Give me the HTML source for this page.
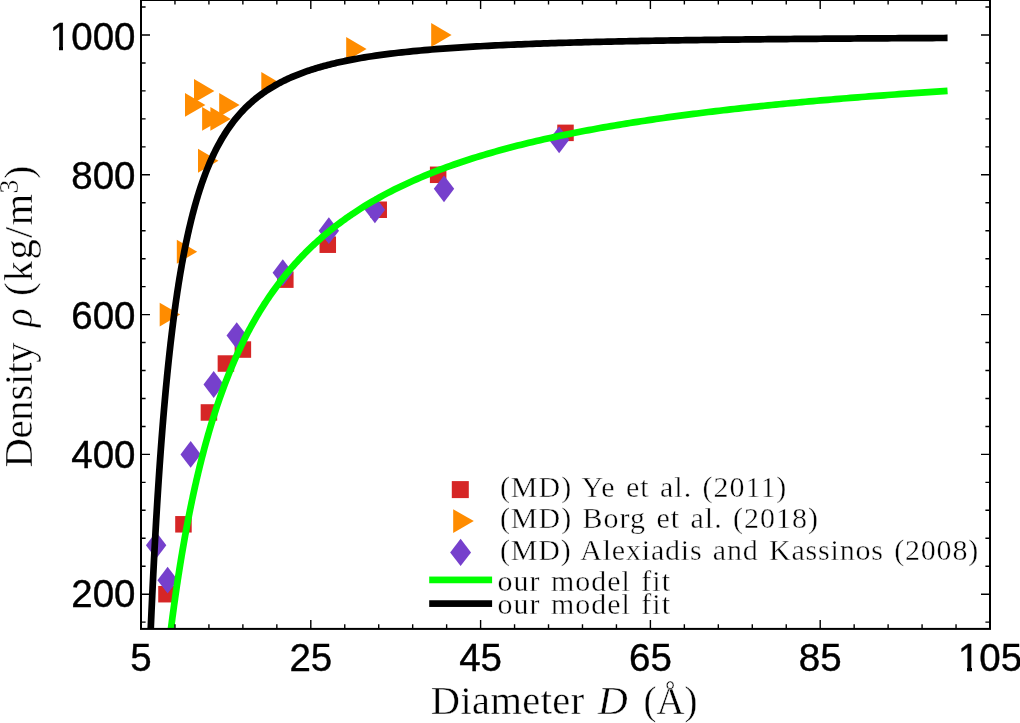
<!DOCTYPE html>
<html><head><meta charset="utf-8"><style>html,body{margin:0;padding:0;background:#fff;overflow:hidden}svg{display:block}</style></head>
<body>
<svg width="1020" height="723" viewBox="0 0 1020 723">
<rect width="1020" height="723" fill="#fff"/>
<defs><clipPath id="c"><rect x="141" y="0" width="849" height="629"/></clipPath></defs>
<g clip-path="url(#c)">
<rect x="158.22" y="585.95" width="16.5" height="16.5" fill="#d62626"/>
<rect x="175.20" y="516.05" width="16.5" height="16.5" fill="#d62626"/>
<rect x="200.67" y="404.21" width="16.5" height="16.5" fill="#d62626"/>
<rect x="217.65" y="355.28" width="16.5" height="16.5" fill="#d62626"/>
<rect x="234.63" y="341.30" width="16.5" height="16.5" fill="#d62626"/>
<rect x="277.08" y="271.40" width="16.5" height="16.5" fill="#d62626"/>
<rect x="319.53" y="236.45" width="16.5" height="16.5" fill="#d62626"/>
<rect x="370.47" y="201.50" width="16.5" height="16.5" fill="#d62626"/>
<rect x="429.90" y="166.55" width="16.5" height="16.5" fill="#d62626"/>
<rect x="557.25" y="124.61" width="16.5" height="16.5" fill="#d62626"/>
<polygon points="159.70,302.65 180.10,314.60 159.70,326.55" fill="#ff8c00"/>
<polygon points="176.80,239.74 197.20,251.69 176.80,263.64" fill="#ff8c00"/>
<polygon points="198.00,148.87 218.40,160.82 198.00,172.77" fill="#ff8c00"/>
<polygon points="202.10,106.93 222.50,118.88 202.10,130.83" fill="#ff8c00"/>
<polygon points="210.40,106.93 230.80,118.88 210.40,130.83" fill="#ff8c00"/>
<polygon points="185.00,92.95 205.40,104.90 185.00,116.85" fill="#ff8c00"/>
<polygon points="219.20,92.95 239.60,104.90 219.20,116.85" fill="#ff8c00"/>
<polygon points="194.00,78.97 214.40,90.92 194.00,102.87" fill="#ff8c00"/>
<polygon points="261.30,71.98 281.70,83.93 261.30,95.88" fill="#ff8c00"/>
<polygon points="346.20,37.03 366.60,48.98 346.20,60.93" fill="#ff8c00"/>
<polygon points="431.20,23.05 451.60,35.00 431.20,46.95" fill="#ff8c00"/>
<polygon points="145.92,545.27 156.12,531.87 166.32,545.27 156.12,558.67" fill="#7640cc"/>
<polygon points="157.44,580.22 167.64,566.82 177.84,580.22 167.64,593.62" fill="#7640cc"/>
<polygon points="180.47,454.40 190.67,441.00 200.87,454.40 190.67,467.80" fill="#7640cc"/>
<polygon points="203.50,384.50 213.70,371.10 223.90,384.50 213.70,397.90" fill="#7640cc"/>
<polygon points="226.53,335.57 236.73,322.17 246.93,335.57 236.73,348.97" fill="#7640cc"/>
<polygon points="272.59,272.66 282.79,259.26 292.99,272.66 282.79,286.06" fill="#7640cc"/>
<polygon points="318.65,230.72 328.85,217.32 339.05,230.72 328.85,244.12" fill="#7640cc"/>
<polygon points="364.71,209.75 374.91,196.35 385.11,209.75 374.91,223.15" fill="#7640cc"/>
<polygon points="433.80,188.78 444.00,175.38 454.20,188.78 444.00,202.18" fill="#7640cc"/>
<polygon points="548.95,139.85 559.15,126.45 569.35,139.85 559.15,153.25" fill="#7640cc"/>
<path d="M170.03,636.14 L170.25,634.39 L170.47,632.65 L170.69,630.92 L170.90,629.20 L171.12,627.49 L171.34,625.79 L171.56,624.11 L171.78,622.43 L172.00,620.76 L172.22,619.10 L172.43,617.45 L172.65,615.81 L172.87,614.18 L173.09,612.55 L173.31,610.94 L173.53,609.34 L173.75,607.75 L173.97,606.16 L174.18,604.58 L174.40,603.02 L174.62,601.46 L174.84,599.91 L175.06,598.37 L175.28,596.83 L175.50,595.31 L175.72,593.79 L175.93,592.29 L176.15,590.79 L176.37,589.30 L176.59,587.82 L176.81,586.34 L177.03,584.87 L177.25,583.42 L177.47,581.97 L177.68,580.52 L177.90,579.09 L178.12,577.66 L178.34,576.24 L178.56,574.83 L178.78,573.42 L179.00,572.03 L179.22,570.64 L179.43,569.25 L179.65,567.88 L179.87,566.51 L180.09,565.15 L180.31,563.80 L180.53,562.45 L180.75,561.11 L180.96,559.78 L181.18,558.45 L181.40,557.13 L181.62,555.82 L181.84,554.52 L182.06,553.22 L182.28,551.93 L182.50,550.64 L182.71,549.36 L182.93,548.09 L183.15,546.82 L183.37,545.56 L183.59,544.31 L183.81,543.06 L184.03,541.82 L184.25,540.59 L184.46,539.36 L184.68,538.13 L184.90,536.92 L185.12,535.71 L185.34,534.50 L185.56,533.30 L185.78,532.11 L186.00,530.93 L186.21,529.74 L186.43,528.57 L186.65,527.40 L186.87,526.23 L187.09,525.08 L187.31,523.92 L187.53,522.78 L187.74,521.63 L187.96,520.50 L188.18,519.37 L188.40,518.24 L188.62,517.12 L188.84,516.01 L189.06,514.90 L189.28,513.79 L189.49,512.69 L189.71,511.60 L189.93,510.51 L190.15,509.43 L190.37,508.35 L190.59,507.27 L190.81,506.20 L191.03,505.14 L191.24,504.08 L191.46,503.03 L191.68,501.98 L191.90,500.93 L192.12,499.89 L192.34,498.86 L192.56,497.83 L192.78,496.80 L192.99,495.78 L193.21,494.76 L193.43,493.75 L193.65,492.75 L193.87,491.74 L194.09,490.74 L194.31,489.75 L194.52,488.76 L194.74,487.78 L194.96,486.80 L195.18,485.82 L195.40,484.85 L195.62,483.88 L195.84,482.92 L196.06,481.96 L196.27,481.00 L196.49,480.05 L196.71,479.10 L196.93,478.16 L197.15,477.22 L197.37,476.29 L197.59,475.36 L197.81,474.43 L198.02,473.51 L198.24,472.59 L198.46,471.67 L198.68,470.76 L198.90,469.86 L199.12,468.95 L199.34,468.05 L199.56,467.16 L199.77,466.27 L199.99,465.38 L200.21,464.49 L200.43,463.61 L201.71,458.52 L203.00,453.54 L204.28,448.69 L205.57,443.95 L206.85,439.31 L208.14,434.79 L209.42,430.36 L210.70,426.04 L211.99,421.81 L213.27,417.67 L214.56,413.62 L215.84,409.66 L217.12,405.79 L218.41,401.99 L219.69,398.27 L220.98,394.63 L222.26,391.06 L223.55,387.57 L224.83,384.14 L226.11,380.78 L227.40,377.49 L228.68,374.26 L229.97,371.09 L231.25,367.98 L232.54,364.93 L233.82,361.94 L235.10,359.00 L236.39,356.11 L237.67,353.28 L238.96,350.50 L240.24,347.76 L241.52,345.08 L242.81,342.44 L244.09,339.84 L245.38,337.29 L246.66,334.79 L247.95,332.32 L249.23,329.90 L250.51,327.52 L251.80,325.17 L253.08,322.87 L254.37,320.60 L255.65,318.37 L256.93,316.17 L258.22,314.01 L259.50,311.88 L260.79,309.78 L262.07,307.72 L263.36,305.68 L264.64,303.68 L265.92,301.71 L267.21,299.77 L268.49,297.85 L269.78,295.97 L271.06,294.11 L272.35,292.28 L273.63,290.47 L274.91,288.69 L276.20,286.94 L277.48,285.21 L278.77,283.50 L280.05,281.82 L281.33,280.16 L282.62,278.52 L283.90,276.91 L285.19,275.31 L286.47,273.74 L287.76,272.19 L289.04,270.66 L290.32,269.15 L291.61,267.66 L292.89,266.19 L294.18,264.74 L295.46,263.30 L296.75,261.89 L298.03,260.49 L299.31,259.11 L300.60,257.74 L301.88,256.40 L303.17,255.07 L304.45,253.75 L305.73,252.45 L307.02,251.17 L308.30,249.90 L309.59,248.65 L310.87,247.41 L312.16,246.19 L313.44,244.98 L314.72,243.79 L316.01,242.61 L317.29,241.44 L318.58,240.29 L319.86,239.15 L321.14,238.02 L322.43,236.90 L323.71,235.80 L325.00,234.71 L326.28,233.63 L327.57,232.56 L328.85,231.51 L330.13,230.46 L331.42,229.43 L332.70,228.41 L333.99,227.40 L335.27,226.40 L336.56,225.41 L337.84,224.43 L339.12,223.46 L340.41,222.50 L341.69,221.55 L342.98,220.61 L344.26,219.68 L345.54,218.76 L346.83,217.85 L348.11,216.95 L349.40,216.06 L350.68,215.17 L351.97,214.30 L353.25,213.43 L356.99,210.96 L360.73,208.55 L364.46,206.21 L368.20,203.94 L371.94,201.72 L375.68,199.57 L379.41,197.46 L383.15,195.42 L386.89,193.42 L390.63,191.48 L394.37,189.58 L398.10,187.73 L401.84,185.92 L405.58,184.16 L409.32,182.44 L413.05,180.75 L416.79,179.11 L420.53,177.50 L424.27,175.93 L428.00,174.40 L431.74,172.90 L435.48,171.43 L439.22,169.99 L442.96,168.58 L446.69,167.21 L450.43,165.86 L454.17,164.53 L457.91,163.24 L461.64,161.97 L465.38,160.73 L469.12,159.51 L472.86,158.31 L476.60,157.14 L480.33,155.99 L484.07,154.86 L487.81,153.76 L491.55,152.67 L495.28,151.60 L499.02,150.56 L502.76,149.53 L506.50,148.52 L510.23,147.53 L513.97,146.55 L517.71,145.60 L521.45,144.66 L525.19,143.73 L528.92,142.82 L532.66,141.93 L536.40,141.05 L540.14,140.19 L543.87,139.34 L547.61,138.50 L551.35,137.68 L555.09,136.87 L558.83,136.07 L562.56,135.29 L566.30,134.51 L570.04,133.75 L573.78,133.01 L577.51,132.27 L581.25,131.54 L584.99,130.83 L588.73,130.12 L592.47,129.43 L596.20,128.75 L599.94,128.07 L603.68,127.41 L607.42,126.75 L611.15,126.11 L614.89,125.47 L618.63,124.85 L622.37,124.23 L626.10,123.62 L629.84,123.02 L633.58,122.42 L637.32,121.84 L641.06,121.26 L644.79,120.69 L648.53,120.13 L652.27,119.57 L656.01,119.03 L659.74,118.49 L663.48,117.95 L667.22,117.43 L670.96,116.91 L674.70,116.39 L678.43,115.89 L682.17,115.39 L685.91,114.89 L689.65,114.40 L693.38,113.92 L697.12,113.45 L700.86,112.98 L704.60,112.51 L708.33,112.05 L712.07,111.60 L715.81,111.15 L719.55,110.71 L723.29,110.27 L727.02,109.84 L730.76,109.41 L734.50,108.98 L738.24,108.57 L741.97,108.15 L745.71,107.74 L749.45,107.34 L753.19,106.94 L756.93,106.55 L760.66,106.16 L764.40,105.77 L768.14,105.39 L771.88,105.01 L775.61,104.63 L779.35,104.26 L783.09,103.90 L786.83,103.54 L790.57,103.18 L794.30,102.82 L798.04,102.47 L801.78,102.12 L805.52,101.78 L809.25,101.44 L812.99,101.10 L816.73,100.77 L820.47,100.44 L824.20,100.11 L827.94,99.79 L831.68,99.47 L835.42,99.15 L839.16,98.84 L842.89,98.53 L846.63,98.22 L850.37,97.92 L854.11,97.61 L857.84,97.32 L861.58,97.02 L865.32,96.73 L869.06,96.44 L872.80,96.15 L876.53,95.86 L880.27,95.58 L884.01,95.30 L887.75,95.02 L891.48,94.75 L895.22,94.48 L898.96,94.21 L902.70,93.94 L906.43,93.68 L910.17,93.41 L913.91,93.15 L917.65,92.90 L921.39,92.64 L925.12,92.39 L928.86,92.14 L932.60,91.89 L936.34,91.64 L940.07,91.40 L943.81,91.15 L947.55,90.91" fill="none" stroke="#00ff00" stroke-width="6.7" stroke-linejoin="round" stroke-linecap="butt"/>
<path d="M150.42,636.14 L150.78,627.75 L151.14,619.52 L151.50,611.47 L151.86,603.59 L152.22,595.86 L152.58,588.29 L152.94,580.87 L153.30,573.60 L153.66,566.47 L154.02,559.48 L154.38,552.63 L154.74,545.91 L155.10,539.32 L155.46,532.85 L155.82,526.51 L156.18,520.29 L156.54,514.19 L156.90,508.20 L157.26,502.32 L157.62,496.55 L157.98,490.89 L158.34,485.32 L158.70,479.86 L159.05,474.50 L159.41,469.24 L159.77,464.06 L160.13,458.98 L160.49,453.99 L160.85,449.09 L161.21,444.27 L161.57,439.53 L161.93,434.88 L162.29,430.30 L162.65,425.80 L163.01,421.38 L163.37,417.04 L163.73,412.76 L164.09,408.56 L164.45,404.43 L164.81,400.36 L165.17,396.36 L165.53,392.43 L165.89,388.56 L166.25,384.75 L166.61,381.00 L166.97,377.32 L167.33,373.69 L167.69,370.12 L168.05,366.60 L168.41,363.14 L168.77,359.73 L169.13,356.38 L169.49,353.08 L169.85,349.82 L170.21,346.62 L170.57,343.47 L170.93,340.36 L171.29,337.30 L171.65,334.28 L172.01,331.31 L172.37,328.39 L172.73,325.50 L173.09,322.66 L173.45,319.86 L173.81,317.11 L174.17,314.39 L174.53,311.71 L174.89,309.06 L175.25,306.46 L175.60,303.89 L175.96,301.36 L176.32,298.86 L176.68,296.40 L177.04,293.98 L177.40,291.58 L177.76,289.22 L178.12,286.89 L178.48,284.60 L178.84,282.33 L179.20,280.10 L179.56,277.89 L179.92,275.72 L180.28,273.57 L180.64,271.46 L181.00,269.37 L181.36,267.31 L181.72,265.27 L182.08,263.26 L182.44,261.28 L182.80,259.32 L183.16,257.39 L183.52,255.49 L183.88,253.60 L184.24,251.75 L184.60,249.91 L184.96,248.10 L185.32,246.31 L185.68,244.54 L186.04,242.80 L186.40,241.08 L186.76,239.38 L187.12,237.70 L187.48,236.04 L187.84,234.40 L188.20,232.78 L188.56,231.18 L188.92,229.60 L189.28,228.04 L189.64,226.49 L190.00,224.97 L190.36,223.46 L190.72,221.97 L191.08,220.50 L191.44,219.05 L191.80,217.61 L192.15,216.19 L192.51,214.79 L192.87,213.40 L193.23,212.03 L193.59,210.67 L193.95,209.33 L194.31,208.01 L194.67,206.70 L195.03,205.40 L195.39,204.12 L195.75,202.86 L196.11,201.61 L196.47,200.37 L196.83,199.14 L197.19,197.93 L197.55,196.74 L197.91,195.55 L198.27,194.38 L198.63,193.22 L198.99,192.08 L199.35,190.94 L199.71,189.82 L200.07,188.71 L200.43,187.62 L201.71,183.79 L203.00,180.11 L204.28,176.57 L205.57,173.15 L206.85,169.85 L208.14,166.68 L209.42,163.61 L210.70,160.65 L211.99,157.79 L213.27,155.03 L214.56,152.35 L215.84,149.77 L217.12,147.27 L218.41,144.86 L219.69,142.52 L220.98,140.25 L222.26,138.06 L223.55,135.93 L224.83,133.87 L226.11,131.87 L227.40,129.93 L228.68,128.05 L229.97,126.23 L231.25,124.46 L232.54,122.74 L233.82,121.07 L235.10,119.44 L236.39,117.87 L237.67,116.33 L238.96,114.84 L240.24,113.39 L241.52,111.98 L242.81,110.61 L244.09,109.27 L245.38,107.97 L246.66,106.70 L247.95,105.47 L249.23,104.27 L250.51,103.10 L251.80,101.95 L253.08,100.84 L254.37,99.76 L255.65,98.70 L256.93,97.66 L258.22,96.66 L259.50,95.67 L260.79,94.71 L262.07,93.78 L263.36,92.86 L264.64,91.97 L265.92,91.10 L267.21,90.25 L268.49,89.41 L269.78,88.60 L271.06,87.80 L272.35,87.03 L273.63,86.26 L274.91,85.52 L276.20,84.79 L277.48,84.08 L278.77,83.39 L280.05,82.70 L281.33,82.04 L282.62,81.38 L283.90,80.74 L285.19,80.12 L286.47,79.51 L287.76,78.91 L289.04,78.32 L290.32,77.74 L291.61,77.18 L292.89,76.62 L294.18,76.08 L295.46,75.55 L296.75,75.03 L298.03,74.52 L299.31,74.02 L300.60,73.52 L301.88,73.04 L303.17,72.57 L304.45,72.11 L305.73,71.65 L307.02,71.20 L308.30,70.77 L309.59,70.33 L310.87,69.91 L312.16,69.50 L313.44,69.09 L314.72,68.69 L316.01,68.30 L317.29,67.91 L318.58,67.53 L319.86,67.16 L321.14,66.79 L322.43,66.43 L323.71,66.08 L325.00,65.73 L326.28,65.39 L327.57,65.06 L328.85,64.73 L330.13,64.40 L331.42,64.08 L332.70,63.77 L333.99,63.46 L335.27,63.16 L336.56,62.86 L337.84,62.57 L339.12,62.28 L340.41,61.99 L341.69,61.71 L342.98,61.44 L344.26,61.17 L345.54,60.90 L346.83,60.64 L348.11,60.38 L349.40,60.13 L350.68,59.88 L351.97,59.63 L353.25,59.39 L356.99,58.70 L360.73,58.05 L364.46,57.42 L368.20,56.81 L371.94,56.24 L375.68,55.68 L379.41,55.15 L383.15,54.64 L386.89,54.15 L390.63,53.68 L394.37,53.23 L398.10,52.79 L401.84,52.37 L405.58,51.96 L409.32,51.57 L413.05,51.20 L416.79,50.83 L420.53,50.48 L424.27,50.15 L428.00,49.82 L431.74,49.50 L435.48,49.20 L439.22,48.91 L442.96,48.62 L446.69,48.34 L450.43,48.08 L454.17,47.82 L457.91,47.57 L461.64,47.33 L465.38,47.09 L469.12,46.86 L472.86,46.64 L476.60,46.43 L480.33,46.22 L484.07,46.02 L487.81,45.82 L491.55,45.63 L495.28,45.45 L499.02,45.27 L502.76,45.09 L506.50,44.92 L510.23,44.76 L513.97,44.60 L517.71,44.44 L521.45,44.29 L525.19,44.14 L528.92,43.99 L532.66,43.85 L536.40,43.72 L540.14,43.58 L543.87,43.45 L547.61,43.33 L551.35,43.20 L555.09,43.08 L558.83,42.96 L562.56,42.85 L566.30,42.74 L570.04,42.63 L573.78,42.52 L577.51,42.42 L581.25,42.32 L584.99,42.22 L588.73,42.12 L592.47,42.02 L596.20,41.93 L599.94,41.84 L603.68,41.75 L607.42,41.67 L611.15,41.58 L614.89,41.50 L618.63,41.42 L622.37,41.34 L626.10,41.26 L629.84,41.18 L633.58,41.11 L637.32,41.04 L641.06,40.97 L644.79,40.90 L648.53,40.83 L652.27,40.76 L656.01,40.70 L659.74,40.63 L663.48,40.57 L667.22,40.51 L670.96,40.45 L674.70,40.39 L678.43,40.33 L682.17,40.27 L685.91,40.22 L689.65,40.16 L693.38,40.11 L697.12,40.05 L700.86,40.00 L704.60,39.95 L708.33,39.90 L712.07,39.85 L715.81,39.80 L719.55,39.76 L723.29,39.71 L727.02,39.67 L730.76,39.62 L734.50,39.58 L738.24,39.53 L741.97,39.49 L745.71,39.45 L749.45,39.41 L753.19,39.37 L756.93,39.33 L760.66,39.29 L764.40,39.25 L768.14,39.21 L771.88,39.18 L775.61,39.14 L779.35,39.11 L783.09,39.07 L786.83,39.04 L790.57,39.00 L794.30,38.97 L798.04,38.94 L801.78,38.90 L805.52,38.87 L809.25,38.84 L812.99,38.81 L816.73,38.78 L820.47,38.75 L824.20,38.72 L827.94,38.69 L831.68,38.66 L835.42,38.63 L839.16,38.61 L842.89,38.58 L846.63,38.55 L850.37,38.53 L854.11,38.50 L857.84,38.47 L861.58,38.45 L865.32,38.42 L869.06,38.40 L872.80,38.38 L876.53,38.35 L880.27,38.33 L884.01,38.31 L887.75,38.28 L891.48,38.26 L895.22,38.24 L898.96,38.22 L902.70,38.20 L906.43,38.17 L910.17,38.15 L913.91,38.13 L917.65,38.11 L921.39,38.09 L925.12,38.07 L928.86,38.05 L932.60,38.03 L936.34,38.02 L940.07,38.00 L943.81,37.98 L947.55,37.96" fill="none" stroke="#000" stroke-width="6.7" stroke-linejoin="round" stroke-linecap="butt"/>
</g>
<rect x="141.0" y="0" width="849.0" height="628.9" fill="none" stroke="#000" stroke-width="2"/>
<path d="M141.00,628.9v-9M141.00,0v9M174.96,628.9v-4.6M174.96,0v4.6M208.92,628.9v-4.6M208.92,0v4.6M242.88,628.9v-4.6M242.88,0v4.6M276.84,628.9v-4.6M276.84,0v4.6M310.80,628.9v-9M310.80,0v9M344.76,628.9v-4.6M344.76,0v4.6M378.72,628.9v-4.6M378.72,0v4.6M412.68,628.9v-4.6M412.68,0v4.6M446.64,628.9v-4.6M446.64,0v4.6M480.60,628.9v-9M480.60,0v9M514.56,628.9v-4.6M514.56,0v4.6M548.52,628.9v-4.6M548.52,0v4.6M582.48,628.9v-4.6M582.48,0v4.6M616.44,628.9v-4.6M616.44,0v4.6M650.40,628.9v-9M650.40,0v9M684.36,628.9v-4.6M684.36,0v4.6M718.32,628.9v-4.6M718.32,0v4.6M752.28,628.9v-4.6M752.28,0v4.6M786.24,628.9v-4.6M786.24,0v4.6M820.20,628.9v-9M820.20,0v9M854.16,628.9v-4.6M854.16,0v4.6M888.12,628.9v-4.6M888.12,0v4.6M922.08,628.9v-4.6M922.08,0v4.6M956.04,628.9v-4.6M956.04,0v4.6M990.00,628.9v-9M990.00,0v9M141.0,622.16h4.6M990,622.16h-4.6M141.0,594.20h9M990,594.20h-9M141.0,566.24h4.6M990,566.24h-4.6M141.0,538.28h4.6M990,538.28h-4.6M141.0,510.32h4.6M990,510.32h-4.6M141.0,482.36h4.6M990,482.36h-4.6M141.0,454.40h9M990,454.40h-9M141.0,426.44h4.6M990,426.44h-4.6M141.0,398.48h4.6M990,398.48h-4.6M141.0,370.52h4.6M990,370.52h-4.6M141.0,342.56h4.6M990,342.56h-4.6M141.0,314.60h9M990,314.60h-9M141.0,286.64h4.6M990,286.64h-4.6M141.0,258.68h4.6M990,258.68h-4.6M141.0,230.72h4.6M990,230.72h-4.6M141.0,202.76h4.6M990,202.76h-4.6M141.0,174.80h9M990,174.80h-9M141.0,146.84h4.6M990,146.84h-4.6M141.0,118.88h4.6M990,118.88h-4.6M141.0,90.92h4.6M990,90.92h-4.6M141.0,62.96h4.6M990,62.96h-4.6M141.0,35.00h9M990,35.00h-9M141.0,7.04h4.6M990,7.04h-4.6" stroke="#000" stroke-width="1.4" fill="none"/>
<text x="141.00" y="670.5" font-family="'Liberation Sans', sans-serif" font-size="38.5" text-anchor="middle" stroke="#000" stroke-width="0.4">5</text>
<text x="310.80" y="670.5" font-family="'Liberation Sans', sans-serif" font-size="38.5" text-anchor="middle" stroke="#000" stroke-width="0.4">25</text>
<text x="480.60" y="670.5" font-family="'Liberation Sans', sans-serif" font-size="38.5" text-anchor="middle" stroke="#000" stroke-width="0.4">45</text>
<text x="650.40" y="670.5" font-family="'Liberation Sans', sans-serif" font-size="38.5" text-anchor="middle" stroke="#000" stroke-width="0.4">65</text>
<text x="820.20" y="670.5" font-family="'Liberation Sans', sans-serif" font-size="38.5" text-anchor="middle" stroke="#000" stroke-width="0.4">85</text>
<text x="990.00" y="670.5" font-family="'Liberation Sans', sans-serif" font-size="38.5" text-anchor="middle" stroke="#000" stroke-width="0.4">105</text>
<text x="135.5" y="607.30" font-family="'Liberation Sans', sans-serif" font-size="38.5" text-anchor="end" stroke="#000" stroke-width="0.4">200</text>
<text x="135.5" y="468.10" font-family="'Liberation Sans', sans-serif" font-size="38.5" text-anchor="end" stroke="#000" stroke-width="0.4">400</text>
<text x="135.5" y="328.70" font-family="'Liberation Sans', sans-serif" font-size="38.5" text-anchor="end" stroke="#000" stroke-width="0.4">600</text>
<text x="135.5" y="189.00" font-family="'Liberation Sans', sans-serif" font-size="38.5" text-anchor="end" stroke="#000" stroke-width="0.4">800</text>
<text x="135.5" y="49.70" font-family="'Liberation Sans', sans-serif" font-size="38.5" text-anchor="end" stroke="#000" stroke-width="0.4">1000</text>
<path d="M51,46.6H59V51.5H51ZM63,46.6H71V51.5H63ZM959,667.6H967V672H959ZM972,667.6H980V672H972Z" fill="#fff"/>
<rect x="451.80" y="481.10" width="17" height="17" fill="#d62626"/>
<polygon points="453.20,509.15 473.80,521.10 453.20,533.05" fill="#ff8c00"/>
<polygon points="450.15,552.40 460.60,538.85 471.05,552.40 460.60,565.95" fill="#7640cc"/>
<rect x="429.2" y="576.55" width="62.9" height="6.7" fill="#00ff00"/>
<rect x="429.2" y="600.25" width="62.9" height="6.7" fill="#000"/>
<text transform="translate(430.80,713.8) scale(0.9993,1)" font-family="'Liberation Serif', serif" font-size="40.5" font-style="normal" stroke="#fff" stroke-width="0.4" letter-spacing="0.41">Diameter</text>
<text transform="translate(598.10,713.6) scale(1.0172,1)" font-family="'Liberation Serif', serif" font-size="40.5" font-style="italic" stroke="#fff" stroke-width="0.4">D</text>
<text transform="translate(643.58,713.8) scale(0.9585,1)" font-family="'Liberation Serif', serif" font-size="40.5" font-style="normal" stroke="#fff" stroke-width="0.4">(Å)</text>
<text transform="translate(32.0,467.60) rotate(-90) scale(1.0049,1)" font-family="'Liberation Serif', serif" font-size="40.5" font-style="normal" stroke="#fff" stroke-width="0.4" letter-spacing="-0.23">Density</text>
<text transform="translate(32.0,327.04) rotate(-90) scale(0.9579,1)" font-family="'Liberation Serif', serif" font-size="40.5" font-style="italic" stroke="#fff" stroke-width="0.4">ρ</text>
<text transform="translate(32.0,295.99) rotate(-90) scale(0.9970,1)" font-family="'Liberation Serif', serif" font-size="40.5" font-style="normal" stroke="#fff" stroke-width="0.4" letter-spacing="1.42">(kg/m</text>
<text transform="translate(18.3,193.61) rotate(-90) scale(1.0083,1)" font-family="'Liberation Serif', serif" font-size="27.5" font-style="normal" stroke="#fff" stroke-width="0.4">3</text>
<text transform="translate(32.0,178.65) rotate(-90) scale(0.9545,1)" font-family="'Liberation Serif', serif" font-size="40.5" font-style="normal" stroke="#fff" stroke-width="0.4">)</text>
<text transform="translate(499.90,496.8) scale(0.9996,1)" font-family="'Liberation Serif', serif" font-size="30" font-style="normal" stroke="#fff" stroke-width="0.4" letter-spacing="0.99" word-spacing="2">(MD) Ye et al. (2011)</text>
<text transform="translate(499.90,528.4) scale(0.9994,1)" font-family="'Liberation Serif', serif" font-size="30" font-style="normal" stroke="#fff" stroke-width="0.4" letter-spacing="0.99" word-spacing="2">(MD) Borg et al. (2018)</text>
<text transform="translate(499.90,559.9) scale(0.9992,1)" font-family="'Liberation Serif', serif" font-size="30" font-style="normal" stroke="#fff" stroke-width="0.4" letter-spacing="0.84" word-spacing="2">(MD) Alexiadis and Kassinos (2008)</text>
<text transform="translate(497.50,590.6) scale(0.9971,1)" font-family="'Liberation Serif', serif" font-size="30" font-style="normal" stroke="#fff" stroke-width="0.4" letter-spacing="1.04" word-spacing="2">our model fit</text>
<text transform="translate(497.50,614.3) scale(0.9971,1)" font-family="'Liberation Serif', serif" font-size="30" font-style="normal" stroke="#fff" stroke-width="0.4" letter-spacing="1.04" word-spacing="2">our model fit</text>
</svg>
</body></html>
